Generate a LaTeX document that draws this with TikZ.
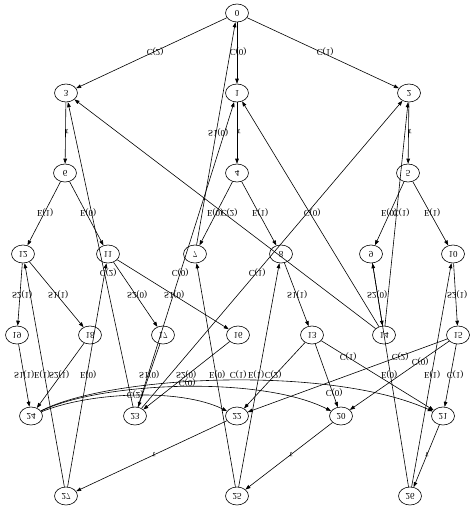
\documentclass[tikz,border=0pt]{standalone}
\usepackage{fontspec}
\setmainfont{Liberation Serif}
\usetikzlibrary{arrows.meta,shapes.geometric}
\begin{document}
\begin{tikzpicture}[x=1pt,y=1pt,
  st/.style={draw,ellipse,minimum width=23pt,minimum height=18pt,inner sep=0pt,line width=0.6pt,font=\fontsize{9}{10}\selectfont,yscale=-1},
  lab/.style={inner sep=0.5pt,font=\fontsize{9}{10}\selectfont,yscale=-1},
  ed/.style={-{Triangle[length=5pt,width=3.6pt]},line width=0.6pt}]
\useasboundingbox (0,0) rectangle (474,-511);
% states
\node[st] (n0) at (237,-13) {0};
\node[st] (n3) at (66,-93) {3};
\node[st] (n1) at (237,-93) {1};
\node[st] (n2) at (409,-93) {2};
\node[st] (n6) at (65,-173) {6};
\node[st] (n4) at (237,-173) {4};
\node[st] (n5) at (408,-173) {5};
\node[st] (n12) at (23,-254) {12};
\node[st] (n11) at (108,-254) {11};
\node[st] (n7) at (195,-254) {7};
\node[st] (n8) at (281,-254) {8};
\node[st] (n9) at (371,-254) {9};
\node[st] (n10) at (453,-254) {10};
\node[st] (n19) at (17,-335) {19};
\node[st] (n18) at (90,-335) {18};
\node[st] (n17) at (163,-335) {17};
\node[st] (n16) at (238,-335) {16};
\node[st] (n13) at (312,-335) {13};
\node[st] (n14) at (384,-335) {14};
\node[st] (n15) at (458,-335) {15};
\node[st] (n24) at (31,-416) {24};
\node[st] (n23) at (135,-416) {23};
\node[st] (n22) at (237,-416) {22};
\node[st] (n20) at (341,-416) {20};
\node[st] (n21) at (443,-416) {21};
\node[st] (n27) at (66,-496) {27};
\node[st] (n25) at (237,-496) {25};
\node[st] (n26) at (410,-496) {26};
% transitions
\draw[ed] (n0) -- (n3);
\draw[ed] (n0) -- (n1);
\draw[ed] (n0) -- (n2);
\draw[ed] (n3) -- (n6);
\draw[ed] (n1) -- (n4);
\draw[ed] (n2) -- (n5);
\draw[ed] (n6) -- (n12);
\draw[ed] (n6) -- (n11);
\draw[ed] (n4) -- (n7);
\draw[ed] (n4) -- (n8);
\draw[ed] (n5) -- (n9);
\draw[ed] (n5) -- (n10);
\draw[ed] (n7) -- (n0);
\draw[ed] (n12) -- (n19);
\draw[ed] (n12) -- (n18);
\draw[ed] (n11) -- (n17);
\draw[ed] (n11) -- (n16);
\draw[ed] (n8) -- (n13);
\draw[ed] (n9) -- (n14);
\draw[ed] (n10) -- (n15);
\draw[ed] (n14) -- (n1);
\draw[ed] (n14) -- (n2);
\draw[ed] (n14) -- (n3);
\draw[ed] (n23) -- (n1);
\draw[ed] (n23) -- (n2);
\draw[ed] (n23) -- (n3);
\draw[ed] (n19) -- (n24);
\draw[ed] (n18) -- (n24);
\draw[ed] (n17) -- (n23);
\draw[ed] (n16) -- (n23);
\draw[ed] (n13) -- (n22);
\draw[ed] (n13) -- (n20);
\draw[ed] (n13) -- (n21);
\draw[ed] (n15) -- (n22);
\draw[ed] (n15) -- (n20);
\draw[ed] (n15) -- (n21);
\draw[ed] (n24) .. controls (90,-392) and (180,-388) .. (n22);
\draw[ed] (n24) .. controls (100,-382) and (260,-375) .. (n20);
\draw[ed] (n24) .. controls (110,-375) and (330,-365) .. (n21);
\draw[ed] (n22) -- (n27);
\draw[ed] (n20) -- (n25);
\draw[ed] (n21) -- (n26);
\draw[ed] (n27) -- (n11);
\draw[ed] (n27) -- (n12);
\draw[ed] (n25) -- (n7);
\draw[ed] (n25) -- (n8);
\draw[ed] (n26) -- (n9);
\draw[ed] (n26) -- (n10);
% labels
\node[lab] (l1) at (155,-52) {C(2)};
\node[lab] (l2) at (238,-52) {C(0)};
\node[lab] (l3) at (325,-52) {C(1)};
\node[lab] (l4) at (67,-132) {τ};
\node[lab] (l5) at (239,-132) {τ};
\node[lab] (l6) at (410,-132) {τ};
\node[lab] (l7) at (218,-133) {S1(0)};
\node[lab] (l8) at (45,-213) {E(1)};
\node[lab] (l9) at (88,-213) {E(0)};
\node[lab] (l10) at (215,-213) {E(0)};
\node[lab] (l11) at (229,-213) {C(2)};
\node[lab] (l12) at (260,-213) {E(1)};
\node[lab] (l13) at (312,-213) {C(0)};
\node[lab] (l14) at (389,-213) {E(0)};
\node[lab] (l15) at (401,-213) {C(1)};
\node[lab] (l16) at (432,-213) {E(1)};
\node[lab] (l17) at (108,-273) {C(2)};
\node[lab] (l18) at (180,-273) {C(0)};
\node[lab] (l19) at (257,-273) {C(1)};
\node[lab] (l20) at (22,-295) {S2(1)};
\node[lab] (l21) at (58,-295) {S1(1)};
\node[lab] (l22) at (137,-295) {S2(0)};
\node[lab] (l23) at (174,-295) {S1(0)};
\node[lab] (l24) at (297,-295) {S1(1)};
\node[lab] (l25) at (377,-295) {S2(0)};
\node[lab] (l26) at (457,-295) {S2(1)};
\node[lab] (l27) at (348,-357) {C(1)};
\node[lab] (l28) at (400,-357) {C(2)};
\node[lab] (l29) at (420,-362) {C(0)};
\node[lab] (l30) at (24,-375) {S1(1)};
\node[lab] (l31) at (42,-375) {E(1)};
\node[lab] (l32) at (59,-375) {S2(1)};
\node[lab] (l33) at (88,-375) {E(0)};
\node[lab] (l34) at (149,-375) {S1(0)};
\node[lab] (l35) at (186,-375) {S2(0)};
\node[lab] (l36) at (217,-375) {E(0)};
\node[lab] (l37) at (238,-375) {C(1)};
\node[lab] (l38) at (256,-375) {E(1)};
\node[lab] (l39) at (273,-375) {C(2)};
\node[lab] (l40) at (389,-375) {E(0)};
\node[lab] (l41) at (432,-375) {E(1)};
\node[lab] (l42) at (455,-375) {C(1)};
\node[lab] (l43) at (187,-383) {C(0)};
\node[lab] (l44) at (334,-393) {C(0)};
\node[lab] (l45) at (135,-395) {C(2)};
\node[lab] (l46) at (154,-455) {τ};
\node[lab] (l47) at (291,-455) {τ};
\node[lab] (l48) at (427,-455) {τ};
\end{tikzpicture}
\end{document}
